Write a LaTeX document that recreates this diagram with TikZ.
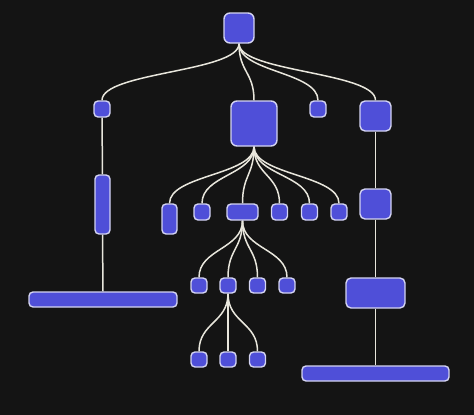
\documentclass[tikz,border=0pt]{standalone}
\usetikzlibrary{calc}
\definecolor{bgc}{HTML}{141414}
\definecolor{fillc}{HTML}{4F4FD8}
\definecolor{bordc}{HTML}{D4D4F2}
\definecolor{edgec}{HTML}{E8E6DC}
\pgfdeclarelayer{back}
\pgfdeclarelayer{bg}
\pgfsetlayers{back,bg,main}
\tikzset{
  box/.style={draw=bordc, fill=fillc, line width=1.4pt, inner sep=0pt, rounded corners=#1},
  box/.default=4pt,
  link/.style={draw=edgec, line width=1.5pt},
}
\newcommand{\lnk}[2]{%
  \draw[link] let \p1=(#1.south), \p2=(#2.north) in
    (\p1) .. controls (\x1,{(\y1+\y2)/2}) and (\x2,{(\y1+\y2)/2}) .. (\p2);}
\begin{document}
\begin{tikzpicture}[x=1pt,y=-1pt]
\begin{pgfonlayer}{back}
\fill[bgc] (0,0) rectangle (474,415);
\end{pgfonlayer}
\useasboundingbox (0,0) rectangle (474,415);
% nodes
\node[box=6pt, minimum width=30pt, minimum height=30pt] (root) at (239,28) {};
\node[box, minimum width=16pt, minimum height=16pt] (l1) at (102,109) {};
\node[box=6pt, minimum width=46pt, minimum height=45pt] (big) at (254,123.5) {};
\node[box, minimum width=16pt, minimum height=16pt] (s1) at (318,109) {};
\node[box=5pt, minimum width=31pt, minimum height=30pt] (r1) at (375.5,116) {};
% left column
\node[box, minimum width=15pt, minimum height=59pt] (l2) at (102.5,204.5) {};
\node[box, minimum width=148pt, minimum height=15pt] (l3) at (103,299.5) {};
% right column
\node[box=5pt, minimum width=31pt, minimum height=30pt] (r2) at (375.5,204) {};
\node[box=5pt, minimum width=59pt, minimum height=30pt] (r3) at (375.5,293) {};
\node[box, minimum width=147pt, minimum height=15pt] (r4) at (375.5,373.5) {};
% middle row
\node[box, minimum width=15pt, minimum height=30pt] (m1) at (169.5,219) {};
\node[box, minimum width=16pt, minimum height=16pt] (m2) at (202,212) {};
\node[box, minimum width=31pt, minimum height=16pt] (m3) at (242.5,212) {};
\node[box, minimum width=16pt, minimum height=16pt] (m4) at (279.5,212) {};
\node[box, minimum width=16pt, minimum height=16pt] (m5) at (309.5,212) {};
\node[box, minimum width=16pt, minimum height=16pt] (m6) at (339,212) {};
% lower row
\node[box, minimum width=16pt, minimum height=15pt] (n1) at (199,285.5) {};
\node[box, minimum width=16pt, minimum height=15pt] (n2) at (228,285.5) {};
\node[box, minimum width=16pt, minimum height=15pt] (n3) at (257.5,285.5) {};
\node[box, minimum width=16pt, minimum height=15pt] (n4) at (287,285.5) {};
% bottom row
\node[box, minimum width=16pt, minimum height=15pt] (b1) at (199,359.5) {};
\node[box, minimum width=16pt, minimum height=15pt] (b2) at (228,359.5) {};
\node[box, minimum width=16pt, minimum height=15pt] (b3) at (257.5,359.5) {};
% edges
\begin{pgfonlayer}{bg}
\lnk{root}{l1}
\lnk{root}{big}
\lnk{root}{s1}
\lnk{root}{r1}
\draw[link] (l1.south) -- (l2.north);
\draw[link] (l2.south) -- (l3.north);
\draw[link] (r1.south) -- (r2.north);
\draw[link] (r2.south) -- (r3.north);
\draw[link] (r3.south) -- (r4.north);
\lnk{big}{m1}
\lnk{big}{m2}
\lnk{big}{m3}
\lnk{big}{m4}
\lnk{big}{m5}
\lnk{big}{m6}
\lnk{m3}{n1}
\lnk{m3}{n2}
\lnk{m3}{n3}
\lnk{m3}{n4}
\lnk{n2}{b1}
\draw[link] (n2.south) -- (b2.north);
\lnk{n2}{b3}
\end{pgfonlayer}
\end{tikzpicture}
\end{document}
